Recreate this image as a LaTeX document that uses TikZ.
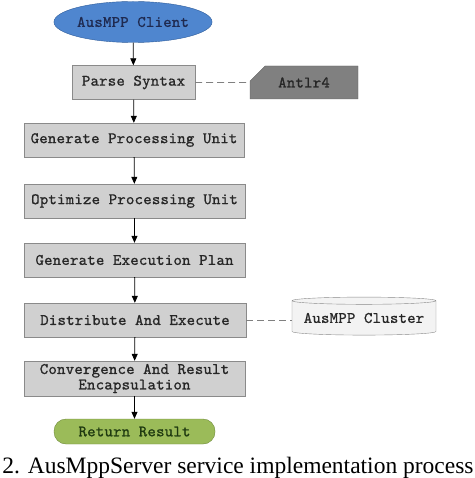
\documentclass[tikz,border=0pt]{standalone}
\usepackage{fontspec}
\setmainfont{Liberation Serif}
\setmonofont{lmmono10-regular.otf}[LetterSpace=1.5,FakeBold=1]
\usetikzlibrary{shapes}
\usetikzlibrary{shapes.geometric}
\usetikzlibrary{shapes.misc}
\usetikzlibrary{arrows.meta}
\definecolor{clientblue}{HTML}{4F86CF}
\definecolor{clientline}{HTML}{2E5C9A}
\definecolor{clienttext}{HTML}{1F2A50}
\definecolor{boxgray}{HTML}{D0D0D0}
\definecolor{boxline}{HTML}{8A8A8A}
\definecolor{toolgray}{HTML}{808080}
\definecolor{toolline}{HTML}{5E5E5E}
\definecolor{retgreen}{HTML}{9BBB59}
\definecolor{retline}{HTML}{6E8A3A}
\definecolor{rettext}{HTML}{1F3A10}
\definecolor{clusterfill}{HTML}{F3F3F3}
\tikzset{
    monofont/.style = {font=\ttfamily\fontsize{16}{15.5}\selectfont},
    nodeclient/.style = {ellipse, draw=clientline, fill=clientblue, minimum width=150pt, minimum height=41pt, inner sep=0pt, monofont, text=clienttext},
    nodebox/.style = {rectangle, draw=boxline, fill=boxgray, minimum height=34pt, inner sep=0pt, align=center, monofont, text=black!85},
    nodetool/.style = {chamfered rectangle, chamfered rectangle corners=north west, chamfered rectangle xsep=18pt, chamfered rectangle ysep=10pt, draw=toolline, fill=toolgray, minimum width=108pt, minimum height=33pt, inner sep=0pt, monofont, text=black!85},
    nodecluster/.style = {cylinder, shape border rotate=90, aspect=0.06, draw=boxline, fill=clusterfill, minimum width=144pt, minimum height=38pt, inner sep=0pt, monofont, text=black!85},
    nodereturn/.style = {rectangle, rounded corners=12pt, draw=retline, fill=retgreen, minimum width=161pt, minimum height=25pt, inner sep=0pt, monofont, text=rettext},
    captext/.style = {font=\fontsize{23.5}{28}\selectfont, inner sep=0pt},
    edgea/.style = {-{Triangle[length=7pt,width=6pt]}, thick, black},
    edged/.style = {-, thick, black!50, dashed, dash pattern=on 7pt off 4pt}
}
\begin{document}
\begin{tikzpicture}[x=1pt,y=-1pt]
\path[use as bounding box] (0,0) rectangle (474,478);
\node[nodeclient] at (133.0, 22.0) (client) {AusMPP Client};
\node[nodebox, minimum width=123pt] at (133.5, 82.5) (parse) {Parse Syntax};
\node[nodetool] at (304.0, 82.5) (antlr) {Antlr4};
\node[nodebox, minimum width=220pt] at (134.0, 140.0) (genunit) {Generate Processing Unit};
\node[nodebox, minimum width=221pt] at (134.5, 201.0) (optunit) {Optimize Processing Unit};
\node[nodebox, minimum width=221pt] at (134.5, 260.0) (plan) {Generate Execution Plan};
\node[nodebox, minimum width=222pt] at (135.0, 320.0) (dist) {Distribute And Execute};
\node[nodecluster] at (364.0, 318.0) (cluster) {AusMPP Cluster};
\node[nodebox, minimum width=221pt, minimum height=35pt] at (134.5, 378.5) (conv) {Convergence And Result\\Encapsulation};
\node[nodereturn] at (134.5, 431.5) (ret) {Return Result};
%
\draw[edgea] (client) edge node {} (parse);
\draw[edgea] (parse) edge node {} (genunit);
\draw[edgea] (genunit) edge node {} (optunit);
\draw[edgea] (optunit) edge node {} (plan);
\draw[edgea] (plan) edge node {} (dist);
\draw[edgea] (dist) edge node {} (conv);
\draw[edgea] (conv) edge node {} (ret);
\draw[edged] (parse) edge node {} (antlr);
\draw[edged] (dist.east) edge node {} (cluster.west |- dist.east);

\node[captext, anchor=base] at (238.0, 473.0) (caption) {2. AusMppServer service implementation process};
\end{tikzpicture}
\end{document}
